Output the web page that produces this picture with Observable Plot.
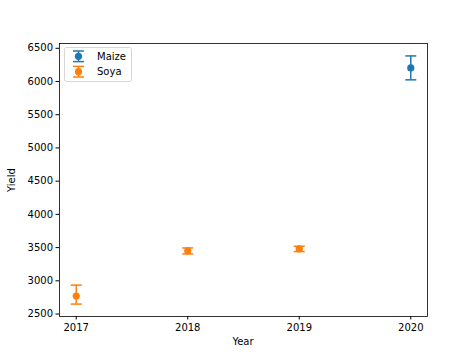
<!DOCTYPE html>
<html><head><meta charset="utf-8">
<script src="https://cdn.jsdelivr.net/npm/d3@7"></script>
<script src="https://cdn.jsdelivr.net/npm/@observablehq/plot@0.6"></script>
<style>body{margin:0;background:#fff;font-family:"DejaVu Sans",sans-serif}</style>
</head><body><div id="chart"></div>
<script>
const crops = ["Soya", "Soya", "Soya", "Maize"];
const years = [2017, 2018, 2019, 2020];
const yieldVals = [2770, 3450, 3480, 6205];
const errLow = [2650, 3405, 3440, 6025];
const errHigh = [2935, 3495, 3520, 6385];
const xTicks = [2017, 2018, 2019, 2020];
const yTicks = [2500, 3000, 3500, 4000, 4500, 5000, 5500, 6000, 6500];
const seriesNames = ["Maize", "Soya"];
const seriesColors = ["#1f77b4", "#ff7f0e"];

const data = years.map((y, i) => ({crop: crops[i], year: y, value: yieldVals[i], lo: errLow[i], hi: errHigh[i]}));
const capSymbol = {draw(ctx, size) { const w = Math.sqrt(size / Math.PI); ctx.moveTo(-w, 0); ctx.lineTo(w, 0); }};

const plot = Plot.plot({
  width: 474, height: 355,
  marginLeft: 59, marginRight: 47, marginTop: 43, marginBottom: 39,
  style: {fontFamily: "DejaVu Sans", fontSize: "10px", color: "#000", background: "#fff"},
  x: {domain: [2016.85, 2020.15], ticks: xTicks, tickFormat: "d", label: null, tickSize: 3.5, tickPadding: 4},
  y: {domain: [2463, 6572], ticks: yTicks, tickFormat: d => String(d), label: null, tickSize: 3.5, tickPadding: 3},
  color: {domain: seriesNames, range: seriesColors},
  marks: [
    Plot.ruleX(data, {x: "year", y1: "lo", y2: "hi", stroke: "crop", strokeWidth: 1.5}),
    Plot.dot(data, {x: "year", y: "lo", symbol: capSymbol, r: 5.5, stroke: "crop", strokeWidth: 1.5, fill: "none"}),
    Plot.dot(data, {x: "year", y: "hi", symbol: capSymbol, r: 5.5, stroke: "crop", strokeWidth: 1.5, fill: "none"}),
    Plot.dot(data, {x: "year", y: "value", fill: "crop", r: 3.6, stroke: "none"}),
    Plot.frame({stroke: "#000", strokeWidth: 0.8})
  ]
});
document.getElementById("chart").appendChild(plot);

const svg = d3.select(plot);
svg.append("text").attr("x", 15).attr("y", 180).attr("transform", "rotate(-90,15,180)")
  .attr("text-anchor", "middle").attr("font-size", 10).attr("fill", "#000").text("Yield");
svg.append("text").attr("x", 243).attr("y", 345).attr("text-anchor", "middle")
  .attr("font-size", 10).attr("fill", "#000").text("Year");

// legend
const lg = svg.append("g");
lg.append("rect").attr("x", 64.5).attr("y", 47.5).attr("width", 67).attr("height", 34).attr("rx", 2)
  .attr("fill", "#fff").attr("fill-opacity", 0.8).attr("stroke", "#ccc").attr("stroke-width", 0.8);
seriesNames.forEach((name, i) => {
  const cy = 56.3 + i * 15.4, cx = 78.5, c = seriesColors[i];
  lg.append("line").attr("x1", cx).attr("x2", cx).attr("y1", cy - 5.3).attr("y2", cy + 5.3).attr("stroke", c).attr("stroke-width", 1.5);
  lg.append("line").attr("x1", cx - 5.5).attr("x2", cx + 5.5).attr("y1", cy - 5.3).attr("y2", cy - 5.3).attr("stroke", c).attr("stroke-width", 1.5);
  lg.append("line").attr("x1", cx - 5.5).attr("x2", cx + 5.5).attr("y1", cy + 5.3).attr("y2", cy + 5.3).attr("stroke", c).attr("stroke-width", 1.5);
  lg.append("circle").attr("cx", cx).attr("cy", cy).attr("r", 3.6).attr("fill", c);
  lg.append("text").attr("x", 97).attr("y", cy + 3.6).attr("text-anchor", "start").attr("font-size", 10).attr("fill", "#000").text(name);
});
</script></body></html>
